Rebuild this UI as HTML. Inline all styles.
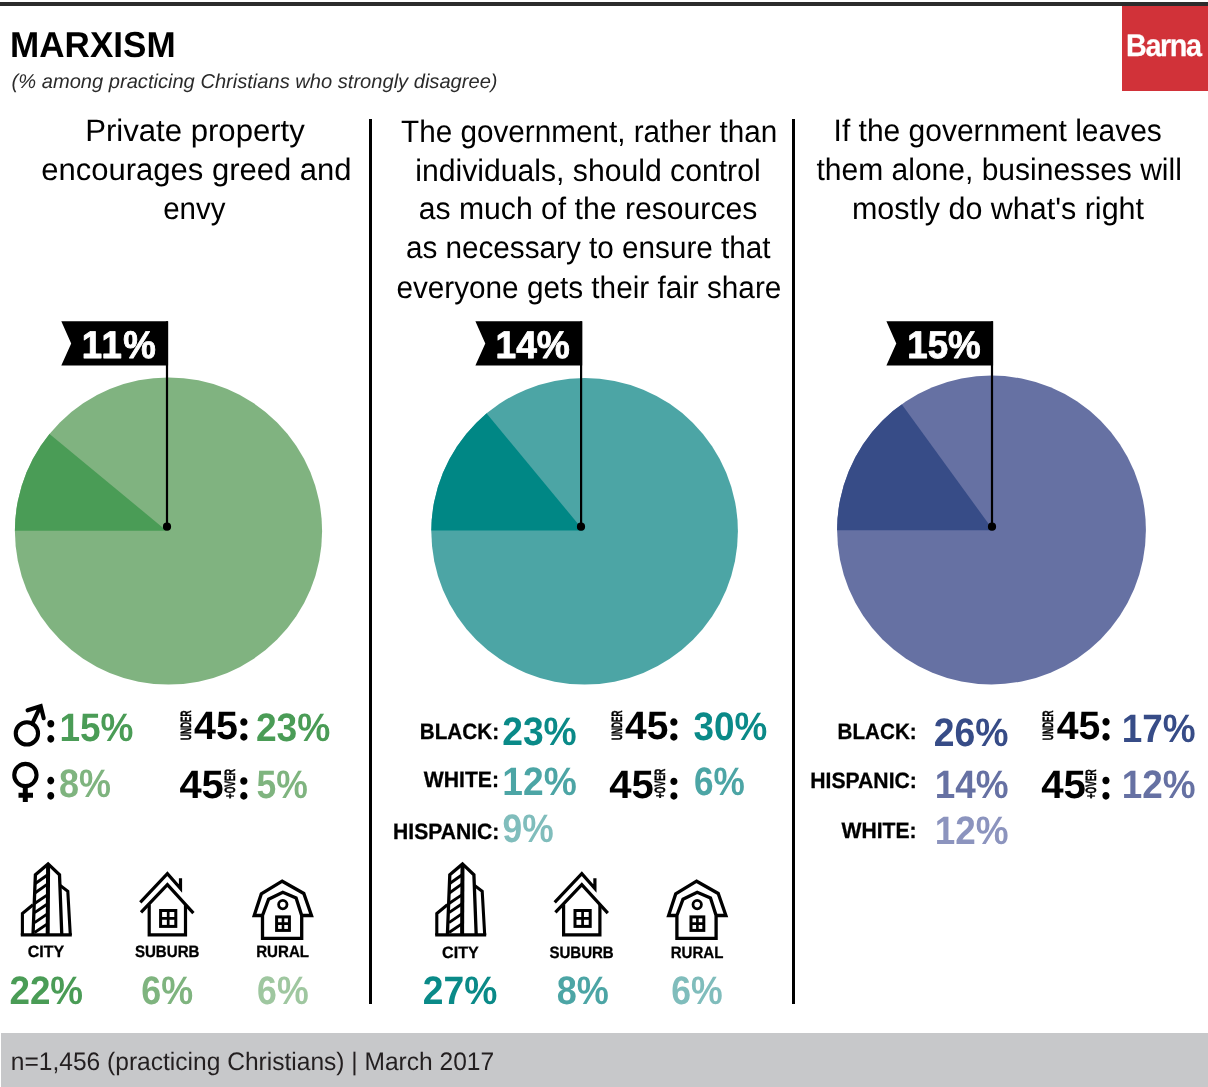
<!DOCTYPE html>
<html lang="en">
<head>
<meta charset="utf-8">
<title>Marxism - Barna</title>
<style>
html,body{margin:0;padding:0;background:#fff}
body{width:1208px;height:1087px;overflow:hidden;position:relative;font-family:"Liberation Sans", sans-serif}
.topbar{position:absolute;left:0;top:1.5px;width:1208px;height:4px;background:#2c2c2c}
.logo{position:absolute;left:1121.6px;top:5.5px;width:86.4px;height:85.1px;background:#d13239}
.rule{position:absolute;top:118.9px;width:3px;height:884.9px;background:#000}
.rule.r1{left:369.2px}
.rule.r2{left:792px}
.footer{position:absolute;left:1px;top:1033px;width:1207px;height:54px;background:#c7c8ca}
svg{position:absolute;left:0;top:0}
text{white-space:pre;text-rendering:geometricPrecision}
</style>
</head>
<body>
<div class="topbar"></div>
<div class="logo"></div>
<div class="rule r1"></div>
<div class="rule r2"></div>
<div class="footer"></div>
<svg width="1208" height="1087" viewBox="0 0 1208 1087">
<g id="charts">
<clipPath id="pc1"><circle cx="168.5" cy="531" r="153.6"/></clipPath>
<circle cx="168.5" cy="531" r="153.6" fill="#80b380"/>
<path clip-path="url(#pc1)" d="M166.5 530.7H-233.5V275.73L-141.71 275.73Z" fill="#4a9c56"/>
<clipPath id="pc2"><circle cx="584.6" cy="531.3" r="153.3"/></clipPath>
<circle cx="584.6" cy="531.3" r="153.3" fill="#4ca5a5"/>
<path clip-path="url(#pc2)" d="M583.5 530.5H183.5V222.29L328.53 222.29Z" fill="#008785"/>
<clipPath id="pc3"><circle cx="991.5" cy="530" r="154.4"/></clipPath>
<circle cx="991.5" cy="530" r="154.4" fill="#6671a3"/>
<path clip-path="url(#pc3)" d="M993.3 530.3H593.3V206.69L758.19 206.69Z" fill="#374c87"/>
<path d="M61.3 321.3H168.1V365.6H61.3L71.2 343.45Z" fill="#000"/>
<rect x="165.9" y="321.3" width="2.2" height="205.4" fill="#000"/>
<circle cx="167" cy="526.7" r="4.1" fill="#000"/>
<path d="M475.4 321.3H582.2V365.6H475.4L485.3 343.45Z" fill="#000"/>
<rect x="580" y="321.3" width="2.2" height="205.4" fill="#000"/>
<circle cx="581" cy="526.7" r="4.1" fill="#000"/>
<path d="M886.4 321.3H993.1V365.6H886.4L896.3 343.45Z" fill="#000"/>
<rect x="990.9" y="321.3" width="2.2" height="205.4" fill="#000"/>
<circle cx="992" cy="526.7" r="4.1" fill="#000"/>
</g>
<g id="gender" fill="none" stroke="#000" stroke-width="4.1">
<circle cx="26.9" cy="733.4" r="11.15"/>
<path d="M32.2 723.8L40.3 706.6M27.6 710.3L40.7 706.2L43.7 718.2" stroke-linecap="round" stroke-linejoin="miter"/>
<circle cx="25.4" cy="775" r="11.15"/>
<path d="M25.3 786V801.9M18.5 795.2H33" stroke-width="5"/>
</g>
<g id="icons">
<g transform="translate(0 0)" fill="none" stroke="#000" stroke-width="3.1" stroke-linejoin="miter">
<path d="M20.8 934.9H71.8" stroke-width="3.3"/>
<path d="M22.4 935V913.6L33 904.8"/>
<path d="M34.6 884.0L47.4 875.0" stroke-width="2.9"/>
<path d="M34.6 893.2L47.4 884.1" stroke-width="2.9"/>
<path d="M34.6 903.5L47.4 894.9" stroke-width="2.9"/>
<path d="M34.6 912.6L47.4 904.0" stroke-width="2.9"/>
<path d="M34.6 922.6L47.4 913.9" stroke-width="2.9"/>
<path d="M34.6 932.5L47.4 923.9" stroke-width="2.9"/>
<path d="M33 935L35.4 874.8L48.1 863.9L59.5 874.8L61.8 935" stroke-width="3.3"/>
<path d="M48.1 865L47.7 935" stroke-width="4"/>
<path d="M60.2 885.6L67.8 891.2L70.3 935"/>
</g>
<g transform="translate(0 0)" fill="none" stroke="#000" stroke-width="3.2" stroke-linejoin="miter">
<path d="M140.3 902.3L167.4 873.6L180.5 888.6V878.2"/>
<path d="M141 912.4L167.4 884.6L193.4 913.2"/>
<path d="M149.2 904.5V934.9H185.5V904.5" />
<rect x="160.6" y="910.5" width="15.2" height="15.9" stroke-width="3"/>
<path d="M168.2 910.3V926.6M160.4 918.4H176" stroke-width="2.7"/>
</g>
<g transform="translate(0 0)" fill="none" stroke="#000" stroke-width="3.3" stroke-linejoin="miter">
<path d="M262.4 915.5H254.2L261.3 893.9L282.2 881.2L303.8 893.5L311.5 915.5H301.8"/>
<path d="M262.5 938.3V915.5L268.6 899.2L282.8 892.3L296.1 898L301.7 915.5V938.3Z"/>
<circle cx="282.8" cy="904.6" r="4.2" stroke-width="2.8"/>
<rect x="276.6" y="916.9" width="12.8" height="13.5" stroke-width="3"/>
<path d="M283 916.7V930.6M276.4 923.6H289.6" stroke-width="2.6"/>
</g>
<g transform="translate(414.4 0)" fill="none" stroke="#000" stroke-width="3.1" stroke-linejoin="miter">
<path d="M20.8 934.9H71.8" stroke-width="3.3"/>
<path d="M22.4 935V913.6L33 904.8"/>
<path d="M34.6 884.0L47.4 875.0" stroke-width="2.9"/>
<path d="M34.6 893.2L47.4 884.1" stroke-width="2.9"/>
<path d="M34.6 903.5L47.4 894.9" stroke-width="2.9"/>
<path d="M34.6 912.6L47.4 904.0" stroke-width="2.9"/>
<path d="M34.6 922.6L47.4 913.9" stroke-width="2.9"/>
<path d="M34.6 932.5L47.4 923.9" stroke-width="2.9"/>
<path d="M33 935L35.4 874.8L48.1 863.9L59.5 874.8L61.8 935" stroke-width="3.3"/>
<path d="M48.1 865L47.7 935" stroke-width="4"/>
<path d="M60.2 885.6L67.8 891.2L70.3 935"/>
</g>
<g transform="translate(414.4 0)" fill="none" stroke="#000" stroke-width="3.2" stroke-linejoin="miter">
<path d="M140.3 902.3L167.4 873.6L180.5 888.6V878.2"/>
<path d="M141 912.4L167.4 884.6L193.4 913.2"/>
<path d="M149.2 904.5V934.9H185.5V904.5" />
<rect x="160.6" y="910.5" width="15.2" height="15.9" stroke-width="3"/>
<path d="M168.2 910.3V926.6M160.4 918.4H176" stroke-width="2.7"/>
</g>
<g transform="translate(414.4 0)" fill="none" stroke="#000" stroke-width="3.3" stroke-linejoin="miter">
<path d="M262.4 915.5H254.2L261.3 893.9L282.2 881.2L303.8 893.5L311.5 915.5H301.8"/>
<path d="M262.5 938.3V915.5L268.6 899.2L282.8 892.3L296.1 898L301.7 915.5V938.3Z"/>
<circle cx="282.8" cy="904.6" r="4.2" stroke-width="2.8"/>
<rect x="276.6" y="916.9" width="12.8" height="13.5" stroke-width="3"/>
<path d="M283 916.7V930.6M276.4 923.6H289.6" stroke-width="2.6"/>
</g>
</g>
<g id="labels" style="font-family:&quot;Liberation Sans&quot;, sans-serif">
<text transform="translate(10.05 57.1) scale(0.9727 1)" font-size="36.05" font-weight="bold" fill="#000">MARXISM</text>
<text transform="translate(11.6 88) scale(1.0049 1)" font-size="20" font-style="italic" fill="#2b2b2b">(% among practicing Christians who strongly disagree)</text>
<text transform="translate(1126.08 56.4) scale(0.9198 1)" font-size="31.25" font-weight="bold" fill="#fff" stroke="#fff" stroke-width="0.25" stroke-linejoin="round" letter-spacing="-1.5">Barna</text>
<text transform="translate(85.14 141.3) scale(1.0040 1)" font-size="31" fill="#000">Private property</text>
<text transform="translate(41.33 180.2) scale(0.9999 1)" font-size="31" fill="#000">encourages greed and</text>
<text transform="translate(163.19 219) scale(0.9508 1)" font-size="31" fill="#000">envy</text>
<text transform="translate(401.02 141.6) scale(0.9575 1)" font-size="31" fill="#000">The government, rather than</text>
<text transform="translate(415.26 180.6) scale(0.9729 1)" font-size="31" fill="#000">individuals, should control</text>
<text transform="translate(418.66 219.4) scale(0.9730 1)" font-size="31" fill="#000">as much of the resources</text>
<text transform="translate(405.89 258.4) scale(0.9577 1)" font-size="31" fill="#000">as necessary to ensure that</text>
<text transform="translate(396.38 297.5) scale(0.9588 1)" font-size="31" fill="#000">everyone gets their fair share</text>
<text transform="translate(833.6 141.3) scale(0.9668 1)" font-size="31" fill="#000">If the government leaves</text>
<text transform="translate(816.44 180.2) scale(0.9684 1)" font-size="31" fill="#000">them alone, businesses will</text>
<text transform="translate(851.91 219) scale(0.9832 1)" font-size="31" fill="#000">mostly do what's right</text>
<text transform="translate(81.68 357.6) scale(0.9461 1)" font-size="38.66" font-weight="bold" fill="#fff" stroke="#fff" stroke-width="0.9" stroke-linejoin="round" letter-spacing="1.6">11%</text>
<text transform="translate(495.55 357.6) scale(0.9600 1)" font-size="38.66" font-weight="bold" fill="#fff" stroke="#fff" stroke-width="0.9" stroke-linejoin="round">14%</text>
<text transform="translate(907.27 357.6) scale(0.9493 1)" font-size="38.66" font-weight="bold" fill="#fff" stroke="#fff" stroke-width="0.9" stroke-linejoin="round">15%</text>
<text transform="translate(59.46 740.75) scale(0.9325 1)" font-size="39.68" font-weight="bold" fill="#4a9c56">15%</text>
<text transform="translate(59.08 797.35) scale(0.9062 1)" font-size="39.68" font-weight="bold" fill="#7fb47f">8%</text>
<text transform="translate(194 739) scale(0.9942 1)" font-size="39.68" font-weight="bold" fill="#000">45</text>
<text transform="translate(255.9 740.95) scale(0.9371 1)" font-size="39.68" font-weight="bold" fill="#4a9c56">23%</text>
<text transform="translate(179.4 797.6) scale(1.0061 1)" font-size="39.68" font-weight="bold" fill="#000">45</text>
<text transform="translate(256.55 797.65) scale(0.8942 1)" font-size="39.68" font-weight="bold" fill="#7fb47f">5%</text>
<text transform="translate(191 740.03) rotate(-90) scale(0.5621 1)" font-size="14.83" font-weight="bold" fill="#000" stroke="#000" stroke-width="0.45" stroke-linejoin="round">UNDER</text>
<text transform="translate(234.5 798.39) rotate(-90) scale(0.5816 1)" font-size="14.83" font-weight="bold" fill="#000" stroke="#000" stroke-width="0.45" stroke-linejoin="round">+OVER</text>
<text transform="translate(27.79 957.4) scale(0.9759 1)" font-size="16.42" font-weight="bold" fill="#000" stroke="#000" stroke-width="0.3" stroke-linejoin="round">CITY</text>
<text transform="translate(134.89 957.4) scale(0.9195 1)" font-size="16.42" font-weight="bold" fill="#000" stroke="#000" stroke-width="0.3" stroke-linejoin="round">SUBURB</text>
<text transform="translate(256.22 957.4) scale(0.9196 1)" font-size="16.42" font-weight="bold" fill="#000" stroke="#000" stroke-width="0.3" stroke-linejoin="round">RURAL</text>
<text transform="translate(9.41 1004.05) scale(0.9280 1)" font-size="39.68" font-weight="bold" fill="#4a9c56">22%</text>
<text transform="translate(141.36 1004.05) scale(0.9047 1)" font-size="39.68" font-weight="bold" fill="#7fb47f">6%</text>
<text transform="translate(257.07 1004.05) scale(0.8992 1)" font-size="39.68" font-weight="bold" fill="#9fc7a0">6%</text>
<text transform="translate(419.79 738.5) scale(0.9306 1)" font-size="22.24" font-weight="bold" fill="#000" stroke="#000" stroke-width="0.3" stroke-linejoin="round">BLACK:</text>
<text transform="translate(423.74 787.1) scale(0.9518 1)" font-size="22.24" font-weight="bold" fill="#000" stroke="#000" stroke-width="0.3" stroke-linejoin="round">WHITE:</text>
<text transform="translate(393.07 838.7) scale(0.9479 1)" font-size="22.24" font-weight="bold" fill="#000" stroke="#000" stroke-width="0.3" stroke-linejoin="round">HISPANIC:</text>
<text transform="translate(502.2 745.45) scale(0.9384 1)" font-size="39.68" font-weight="bold" fill="#0a8a88">23%</text>
<text transform="translate(502.35 794.65) scale(0.9364 1)" font-size="39.68" font-weight="bold" fill="#4ca5a5">12%</text>
<text transform="translate(502.54 841.55) scale(0.8909 1)" font-size="39.68" font-weight="bold" fill="#80bdbc">9%</text>
<text transform="translate(625.11 738.9) scale(0.9824 1)" font-size="39.68" font-weight="bold" fill="#000">45</text>
<text transform="translate(693.56 740.35) scale(0.9286 1)" font-size="39.68" font-weight="bold" fill="#0a8a88">30%</text>
<text transform="translate(609.29 797.6) scale(1.0108 1)" font-size="39.68" font-weight="bold" fill="#000">45</text>
<text transform="translate(693.89 795.15) scale(0.8864 1)" font-size="39.68" font-weight="bold" fill="#4ca5a5">6%</text>
<text transform="translate(621.5 740.03) rotate(-90) scale(0.5602 1)" font-size="14.83" font-weight="bold" fill="#000" stroke="#000" stroke-width="0.45" stroke-linejoin="round">UNDER</text>
<text transform="translate(665.3 798.19) rotate(-90) scale(0.5796 1)" font-size="14.83" font-weight="bold" fill="#000" stroke="#000" stroke-width="0.45" stroke-linejoin="round">+OVER</text>
<text transform="translate(442.09 957.5) scale(0.9814 1)" font-size="16.42" font-weight="bold" fill="#000" stroke="#000" stroke-width="0.3" stroke-linejoin="round">CITY</text>
<text transform="translate(549.39 957.5) scale(0.9166 1)" font-size="16.42" font-weight="bold" fill="#000" stroke="#000" stroke-width="0.3" stroke-linejoin="round">SUBURB</text>
<text transform="translate(670.73 957.5) scale(0.9160 1)" font-size="16.42" font-weight="bold" fill="#000" stroke="#000" stroke-width="0.3" stroke-linejoin="round">RURAL</text>
<text transform="translate(422.8 1003.95) scale(0.9384 1)" font-size="39.68" font-weight="bold" fill="#0a8a88">27%</text>
<text transform="translate(556.78 1003.95) scale(0.9080 1)" font-size="39.68" font-weight="bold" fill="#4ca5a5">8%</text>
<text transform="translate(671.27 1003.95) scale(0.8974 1)" font-size="39.68" font-weight="bold" fill="#80bdbc">6%</text>
<text transform="translate(837.59 738.5) scale(0.9282 1)" font-size="22.24" font-weight="bold" fill="#000" stroke="#000" stroke-width="0.3" stroke-linejoin="round">BLACK:</text>
<text transform="translate(810.26 787.7) scale(0.9516 1)" font-size="22.24" font-weight="bold" fill="#000" stroke="#000" stroke-width="0.3" stroke-linejoin="round">HISPANIC:</text>
<text transform="translate(841.44 838.1) scale(0.9505 1)" font-size="22.24" font-weight="bold" fill="#000" stroke="#000" stroke-width="0.3" stroke-linejoin="round">WHITE:</text>
<text transform="translate(933.79 745.75) scale(0.9410 1)" font-size="39.68" font-weight="bold" fill="#374c87">26%</text>
<text transform="translate(934.67 797.85) scale(0.9299 1)" font-size="39.68" font-weight="bold" fill="#6671a3">14%</text>
<text transform="translate(934.67 843.75) scale(0.9299 1)" font-size="39.68" font-weight="bold" fill="#8c94be">12%</text>
<text transform="translate(1056.71 738.6) scale(0.9871 1)" font-size="39.68" font-weight="bold" fill="#000">45</text>
<text transform="translate(1121.67 741.75) scale(0.9299 1)" font-size="39.68" font-weight="bold" fill="#374c87">17%</text>
<text transform="translate(1041.19 797.7) scale(1.0132 1)" font-size="39.68" font-weight="bold" fill="#000">45</text>
<text transform="translate(1121.67 798.05) scale(0.9299 1)" font-size="39.68" font-weight="bold" fill="#6671a3">12%</text>
<text transform="translate(1053.2 740.13) rotate(-90) scale(0.5640 1)" font-size="14.83" font-weight="bold" fill="#000" stroke="#000" stroke-width="0.45" stroke-linejoin="round">UNDER</text>
<text transform="translate(1096.3 798.39) rotate(-90) scale(0.5756 1)" font-size="14.83" font-weight="bold" fill="#000" stroke="#000" stroke-width="0.45" stroke-linejoin="round">+OVER</text>
<text transform="translate(10.82 1069.8) scale(0.9706 1)" font-size="25.3" fill="#231f20">n=1,456 (practicing Christians) | March 2017</text>
<text transform="translate(43.63 742.32) scale(0.9175 1)" font-size="47.14" font-weight="bold" fill="#000" font-family='"Liberation Serif", serif'>:</text>
<text transform="translate(43.67 799.14) scale(0.9069 1)" font-size="47.44" font-weight="bold" fill="#000" font-family='"Liberation Serif", serif'>:</text>
<text transform="translate(236.5 739.76) scale(0.9759 1)" font-size="46.23" font-weight="bold" fill="#000" font-family='"Liberation Serif", serif'>:</text>
<text transform="translate(236.54 798.68) scale(0.9654 1)" font-size="46.54" font-weight="bold" fill="#000" font-family='"Liberation Serif", serif'>:</text>
<text transform="translate(666.6 739.96) scale(0.9759 1)" font-size="46.23" font-weight="bold" fill="#000" font-family='"Liberation Serif", serif'>:</text>
<text transform="translate(666.86 798.51) scale(0.9675 1)" font-size="45.33" font-weight="bold" fill="#000" font-family='"Liberation Serif", serif'>:</text>
<text transform="translate(1098.68 739.6) scale(0.9556 1)" font-size="46.84" font-weight="bold" fill="#000" font-family='"Liberation Serif", serif'>:</text>
<text transform="translate(1098.8 799.06) scale(0.9258 1)" font-size="47.74" font-weight="bold" fill="#000" font-family='"Liberation Serif", serif'>:</text>
</g>
</svg>
</body>
</html>
